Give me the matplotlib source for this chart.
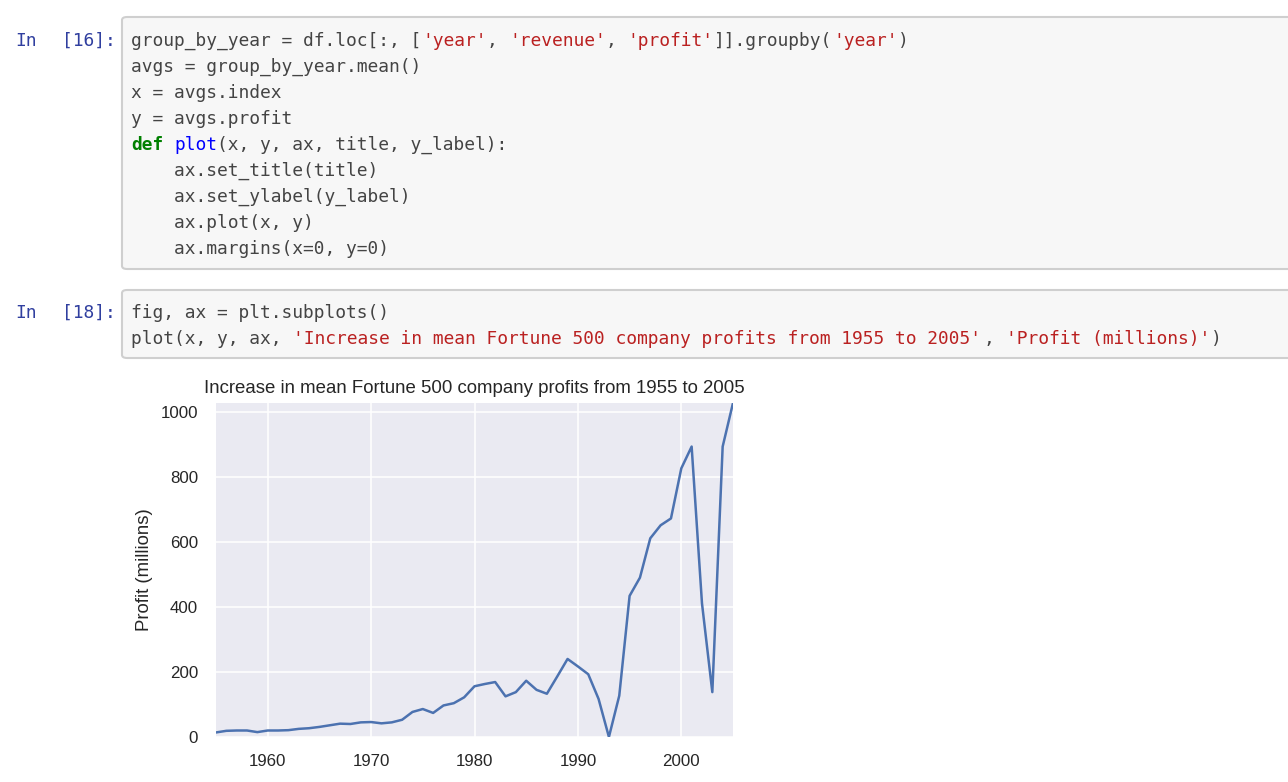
import matplotlib
matplotlib.use("Agg")
import matplotlib.pyplot as plt
from matplotlib.patches import FancyBboxPatch
import seaborn as sns

# 数据：每年平均利润（百万）
years = list(range(1955, 2006))
profits = [14, 19, 20, 20, 15, 20, 20, 21, 25, 27,
           31, 36, 41, 40, 45, 46, 42, 45, 53, 77,
           86, 74, 97, 104, 122, 156, 163, 169, 125, 138,
           173, 145, 133, 186, 240, 217, 193, 117, 0, 127,
           434, 490, 611, 651, 672, 826, 893, 411, 138, 893,
           1027]
y_ticks = [0, 200, 400, 600, 800, 1000]
x_ticks = [1960, 1970, 1980, 1990, 2000]

chart_title = "Increase in mean Fortune 500 company profits from 1955 to 2005"
y_label = "Profit (millions)"

# 代码单元格文本 (片段, 颜色类型)
cell1 = [
    [("group_by_year = df.loc[:, [", "n"), ("'year'", "s"), (", ", "n"), ("'revenue'", "s"),
     (", ", "n"), ("'profit'", "s"), ("]].groupby(", "n"), ("'year'", "s"), (")", "n")],
    [("avgs = group_by_year.mean()", "n")],
    [("x = avgs.index", "n")],
    [("y = avgs.profit", "n")],
    [("def", "k"), (" ", "n"), ("plot", "f"), ("(x, y, ax, title, y_label):", "n")],
    [("    ax.set_title(title)", "n")],
    [("    ax.set_ylabel(y_label)", "n")],
    [("    ax.plot(x, y)", "n")],
    [("    ax.margins(x=0, y=0)", "n")],
]
cell2 = [
    [("fig, ax = plt.subplots()", "n")],
    [("plot(x, y, ax, ", "n"), ("'" + chart_title + "'", "s"), (", ", "n"),
     ("'" + y_label + "'", "s"), (")", "n")],
]

W, H = 1288, 782
sns.set_style("darkgrid")
plt.rcParams['font.family'] = ['Liberation Sans', 'DejaVu Sans']

fig = plt.figure(figsize=(W / 100, H / 100), dpi=100)
fig.patch.set_facecolor("white")

colors = {"n": "#444444", "s": "#BA2121", "k": "#008000", "f": "#0000FF"}
char_w = 10.8
mono = "DejaVu Sans Mono"


def fx(px):
    return px / W


def fy(py):
    return 1 - py / H


def draw_cell(top, bottom, prompt, lines, first_y):
    box = FancyBboxPatch((fx(122), fy(bottom)), fx(1300 - 122), fy(top) - fy(bottom),
                         boxstyle="round,pad=0,rounding_size=0.004",
                         transform=fig.transFigure, facecolor="#F7F7F7",
                         edgecolor="#CFCFCF", linewidth=1.5, zorder=0)
    fig.patches.append(box)
    fig.text(fx(15), fy(first_y), "In", color="#303F9F", family=mono,
             fontsize=12.9, va="center", ha="left")
    fig.text(fx(116), fy(first_y), prompt, color="#303F9F", family=mono,
             fontsize=12.9, va="center", ha="right")
    for i, segs in enumerate(lines):
        col = 0
        for txt, kind in segs:
            fig.text(fx(131 + col * char_w), fy(first_y + i * 26), txt,
                     color=colors[kind], family=mono, fontsize=12.9,
                     fontweight="bold" if kind == "k" else "normal",
                     va="center", ha="left")
            col += len(txt)


draw_cell(17, 269, "[16]:", cell1, 41)
draw_cell(290, 358, "[18]:", cell2, 313)

# 图表
ax = fig.add_axes([fx(216), fy(737), fx(733 - 216), fy(403) - fy(737)])
ax.set_facecolor("#EAEAF2")
ax.plot(years, profits, color="#4C72B0", linewidth=1.8)
ax.margins(x=0, y=0)
ax.set_xticks(x_ticks)
ax.set_yticks(y_ticks)
ax.grid(True, color="white", linewidth=1.1)
for s in ax.spines.values():
    s.set_visible(False)
ax.tick_params(axis="x", length=0, pad=12, labelsize=12.2, labelcolor="#262626")
ax.tick_params(axis="y", length=0, pad=13, labelsize=12.2, labelcolor="#262626")
ax.set_title(chart_title, fontsize=13.4, color="#262626", pad=7.4)
ax.set_ylabel(y_label, fontsize=13.4, color="#262626")
ax.yaxis.set_label_coords((153 - 216) / (733 - 216), 0.5)

fig.savefig("out.png", dpi=100)
